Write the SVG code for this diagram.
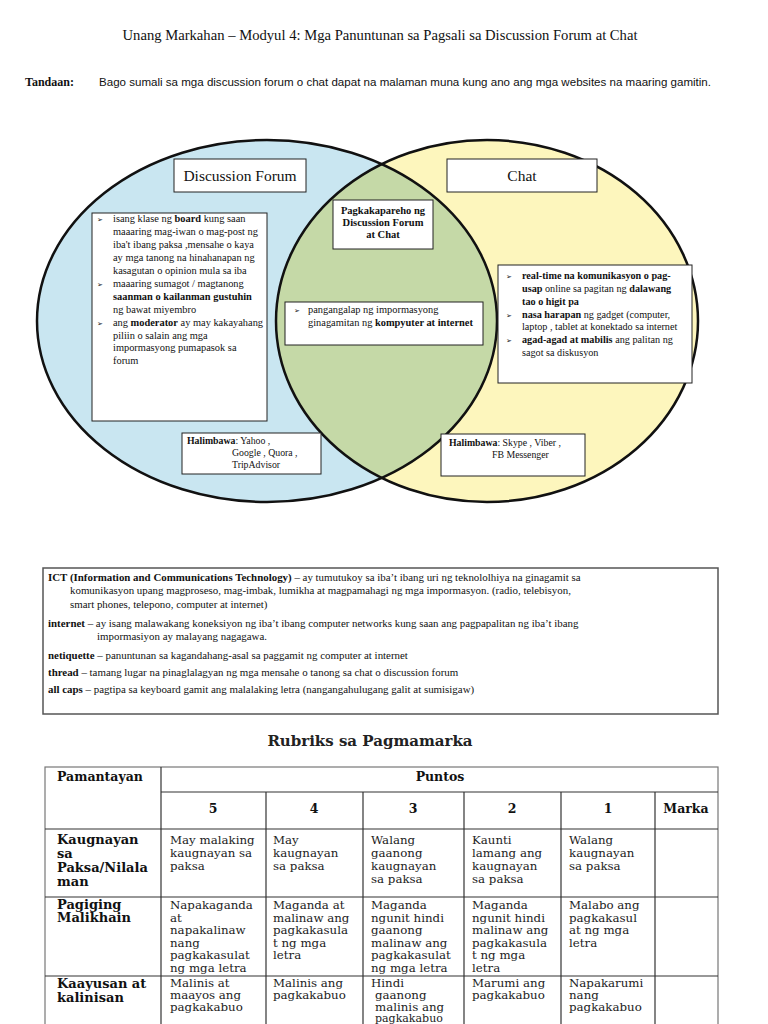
<svg xmlns="http://www.w3.org/2000/svg" width="768" height="1024" viewBox="0 0 768 1024">
<style>
.ser{font-family:"Liberation Serif","Times New Roman",serif;fill:#111}
.b{font-weight:bold}
.box{fill:#fff;stroke:#222;stroke-width:1}
.bul{font-family:"DejaVu Sans",sans-serif;font-size:7px;fill:#111}
.vt{font-size:10.4px}
.gl{font-size:10.9px}
.tb{font-family:"DejaVu Serif",serif;fill:#222;font-size:11.8px}
.th{font-family:"DejaVu Serif",serif;fill:#111;font-size:12.5px;font-weight:bold}
.grid{stroke:#333;stroke-width:1.2;fill:none}
</style>
<defs>
<clipPath id="clipR"><ellipse cx="487" cy="321" rx="211" ry="181"/></clipPath>
</defs>
<rect width="768" height="1024" fill="#fff"/>

<g id="header">
<text class="ser" x="380" y="40" font-size="14" text-anchor="middle" textLength="515" lengthAdjust="spacingAndGlyphs">Unang Markahan – Modyul 4: Mga Panuntunan sa Pagsali sa Discussion Forum at Chat</text>
<text class="ser b" x="25" y="86" font-size="12">Tandaan:</text>
<text x="99" y="86" font-family="Liberation Sans, Arial, sans-serif" font-size="11" fill="#111" textLength="612" lengthAdjust="spacingAndGlyphs">Bago sumali sa mga discussion forum o chat dapat na malaman muna kung ano ang mga websites na maaring gamitin.</text>
</g>

<g id="venn">
<ellipse cx="267" cy="321" rx="230" ry="181" fill="#c9e6f1"/>
<ellipse cx="487" cy="321" rx="211" ry="181" fill="#fdf6bd"/>
<ellipse cx="267" cy="321" rx="230" ry="181" fill="#c5d9a7" clip-path="url(#clipR)"/>
<ellipse cx="267" cy="321" rx="230" ry="181" fill="none" stroke="#111" stroke-width="2.5"/>
<ellipse cx="487" cy="321" rx="211" ry="181" fill="none" stroke="#111" stroke-width="2.5"/>
</g>

<g id="node-discussion-forum">
<rect class="box" x="174" y="159" width="132" height="33"/>
<text class="ser" x="240" y="181" font-size="15.5" text-anchor="middle">Discussion Forum</text>
</g>

<g id="node-chat">
<rect class="box" x="447" y="159" width="150" height="33"/>
<text class="ser" x="522" y="181" font-size="15.5" text-anchor="middle">Chat</text>
</g>

<g id="node-forum-list">
<rect class="box" x="92" y="213" width="175" height="208"/>
<text class="bul" x="97" y="222">➢</text>
<text class="bul" x="97" y="287">➢</text>
<text class="bul" x="97" y="326">➢</text>
<g class="ser vt">
<text x="113" y="222">isang klase ng <tspan class="b">board</tspan> kung saan</text>
<text x="113" y="235">maaaring mag-iwan o mag-post ng</text>
<text x="113" y="248">iba't ibang paksa ,mensahe o kaya</text>
<text x="113" y="261">ay mga tanong na hinahanapan ng</text>
<text x="113" y="274">kasagutan o opinion mula sa iba</text>
<text x="113" y="287">maaaring sumagot / magtanong</text>
<text x="113" y="300" class="b">saanman o kailanman gustuhin</text>
<text x="113" y="313">ng bawat miyembro</text>
<text x="113" y="326">ang <tspan class="b">moderator</tspan> ay may kakayahang</text>
<text x="113" y="339">piliin o salain ang mga</text>
<text x="113" y="351">impormasyong pumapasok sa</text>
<text x="113" y="364">forum</text>
</g>
</g>

<g id="node-common-title">
<rect class="box" x="333" y="200" width="100" height="49"/>
<g class="ser b" font-size="10.5" text-anchor="middle">
<text x="383" y="214">Pagkakapareho ng</text>
<text x="383" y="226">Discussion Forum</text>
<text x="383" y="238">at Chat</text>
</g>
</g>

<g id="node-common-list">
<rect class="box" x="285" y="302" width="198" height="43"/>
<text class="bul" x="294" y="313">➢</text>
<g class="ser vt">
<text x="308" y="313">pangangalap ng impormasyong</text>
<text x="308" y="326">ginagamitan ng <tspan class="b">kompyuter at internet</tspan></text>
</g>
</g>

<g id="node-chat-list">
<rect class="box" x="498" y="265" width="194" height="118"/>
<text class="bul" x="506" y="279">➢</text>
<text class="bul" x="506" y="318">➢</text>
<text class="bul" x="506" y="343">➢</text>
<g class="ser" font-size="10.2">
<text x="522" y="279" class="b">real-time na komunikasyon o pag-</text>
<text x="522" y="292"><tspan class="b">usap</tspan> online sa pagitan ng <tspan class="b">dalawang</tspan></text>
<text x="522" y="305" class="b">tao o higit pa</text>
<text x="522" y="318"><tspan class="b">nasa harapan</tspan> ng gadget (computer,</text>
<text x="522" y="330">laptop , tablet at konektado sa internet</text>
<text x="522" y="343"><tspan class="b">agad-agad at mabilis</tspan> ang palitan ng</text>
<text x="522" y="356">sagot sa diskusyon</text>
</g>
</g>

<g id="node-forum-examples">
<rect class="box" x="182" y="433" width="139" height="41"/>
<g class="ser" font-size="9.8">
<text x="187" y="444"><tspan class="b">Halimbawa</tspan>: Yahoo ,</text>
<text x="232" y="456">Google , Quora ,</text>
<text x="232" y="468">TripAdvisor</text>
</g>
</g>

<g id="node-chat-examples">
<rect class="box" x="441" y="434" width="144" height="42"/>
<g class="ser" font-size="9.8">
<text x="449" y="446"><tspan class="b">Halimbawa</tspan>: Skype , Viber ,</text>
<text x="492" y="458">FB Messenger</text>
</g>
</g>

<g id="glossary">
<rect x="43" y="568" width="675" height="146" fill="#fff" stroke="#555" stroke-width="1.5"/>
<g class="ser gl">
<text x="48" y="581"><tspan class="b">ICT (Information and Communications Technology)</tspan> – ay tumutukoy sa iba’t ibang uri ng teknololhiya na ginagamit sa</text>
<text x="70" y="594">komunikasyon upang magproseso, mag-imbak, lumikha at magpamahagi ng mga impormasyon. (radio, telebisyon,</text>
<text x="70" y="608">smart phones, telepono, computer at internet)</text>
<text x="48" y="627"><tspan class="b">internet</tspan> – ay isang malawakang koneksiyon ng iba’t ibang computer networks kung saan ang pagpapalitan ng iba’t ibang</text>
<text x="97" y="640">impormasiyon ay malayang nagagawa.</text>
<text x="48" y="659"><tspan class="b">netiquette</tspan> – panuntunan sa kagandahang-asal sa paggamit ng computer at internet</text>
<text x="48" y="676"><tspan class="b">thread</tspan> – tamang lugar na pinaglalagyan ng mga mensahe o tanong sa chat o discussion forum</text>
<text x="48" y="693"><tspan class="b">all caps</tspan> – pagtipa sa keyboard gamit ang malalaking letra (nangangahulugang galit at sumisigaw)</text>
</g>
</g>

<g id="rubric">
<text x="370" y="746" font-family="DejaVu Serif, serif" font-size="15" font-weight="bold" fill="#222" text-anchor="middle">Rubriks sa Pagmamarka</text>
<g class="grid">
<rect x="45" y="767" width="673" height="270" stroke="#777"/>
<line x1="161" y1="767" x2="161" y2="1024"/>
<line x1="161" y1="792" x2="718" y2="792"/>
<line x1="266" y1="792" x2="266" y2="1024"/>
<line x1="363" y1="792" x2="363" y2="1024"/>
<line x1="464" y1="792" x2="464" y2="1024"/>
<line x1="561" y1="792" x2="561" y2="1024"/>
<line x1="655" y1="792" x2="655" y2="1024"/>
<line x1="45" y1="829" x2="718" y2="829"/>
<line x1="45" y1="897" x2="718" y2="897"/>
<line x1="45" y1="976" x2="718" y2="976"/>
</g>
<g class="th">
<text x="57" y="781">Pamantayan</text>
<text x="440" y="781" text-anchor="middle">Puntos</text>
<text x="213" y="813" text-anchor="middle">5</text>
<text x="314" y="813" text-anchor="middle">4</text>
<text x="413" y="813" text-anchor="middle">3</text>
<text x="512" y="813" text-anchor="middle">2</text>
<text x="608" y="813" text-anchor="middle">1</text>
<text x="686" y="813" text-anchor="middle">Marka</text>
<text x="57" y="844" font-size="13">Kaugnayan</text>
<text x="57" y="858" font-size="13">sa</text>
<text x="57" y="872" font-size="13">Paksa/Nilala</text>
<text x="57" y="886" font-size="13">man</text>
<text x="57" y="909" font-size="13">Pagiging</text>
<text x="57" y="922" font-size="13">Malikhain</text>
<text x="57" y="988" font-size="13">Kaayusan at</text>
<text x="57" y="1002" font-size="13">kalinisan</text>
</g>
<g class="tb">
<text x="170" y="844">May malaking</text>
<text x="170" y="857">kaugnayan sa</text>
<text x="170" y="870">paksa</text>
<text x="273" y="844">May</text>
<text x="273" y="857">kaugnayan</text>
<text x="273" y="870">sa paksa</text>
<text x="371" y="844">Walang</text>
<text x="371" y="857">gaanong</text>
<text x="371" y="870">kaugnayan</text>
<text x="371" y="883">sa paksa</text>
<text x="472" y="844">Kaunti</text>
<text x="472" y="857">lamang ang</text>
<text x="472" y="870">kaugnayan</text>
<text x="472" y="883">sa paksa</text>
<text x="569" y="844">Walang</text>
<text x="569" y="857">kaugnayan</text>
<text x="569" y="870">sa paksa</text>

<text x="170" y="909">Napakaganda</text>
<text x="170" y="921.6">at</text>
<text x="170" y="934.2">napakalinaw</text>
<text x="170" y="946.8">nang</text>
<text x="170" y="959.4">pagkakasulat</text>
<text x="170" y="972">ng mga letra</text>
<text x="273" y="909">Maganda at</text>
<text x="273" y="921.6">malinaw ang</text>
<text x="273" y="934.2">pagkakasula</text>
<text x="273" y="946.8">t ng mga</text>
<text x="273" y="959.4">letra</text>
<text x="371" y="909">Maganda</text>
<text x="371" y="921.6">ngunit hindi</text>
<text x="371" y="934.2">gaanong</text>
<text x="371" y="946.8">malinaw ang</text>
<text x="371" y="959.4">pagkakasulat</text>
<text x="371" y="972">ng mga letra</text>
<text x="472" y="909">Maganda</text>
<text x="472" y="921.6">ngunit hindi</text>
<text x="472" y="934.2">malinaw ang</text>
<text x="472" y="946.8">pagkakasula</text>
<text x="472" y="959.4">t ng mga</text>
<text x="472" y="972">letra</text>
<text x="569" y="909">Malabo ang</text>
<text x="569" y="921.6">pagkakasul</text>
<text x="569" y="934.2">at ng mga</text>
<text x="569" y="946.8">letra</text>

<text x="170" y="987">Malinis at</text>
<text x="170" y="999">maayos ang</text>
<text x="170" y="1011">pagkakabuo</text>
<text x="273" y="987">Malinis ang</text>
<text x="273" y="999">pagkakabuo</text>
<text x="371" y="987">Hindi</text>
<text x="375" y="999">gaanong</text>
<text x="375" y="1011">malinis ang</text>
<text x="375" y="1022" font-size="11">pagkakabuo</text>
<text x="472" y="987">Marumi ang</text>
<text x="472" y="999">pagkakabuo</text>
<text x="569" y="987">Napakarumi</text>
<text x="569" y="999">nang</text>
<text x="569" y="1011">pagkakabuo</text>
</g>
</g>
</svg>
